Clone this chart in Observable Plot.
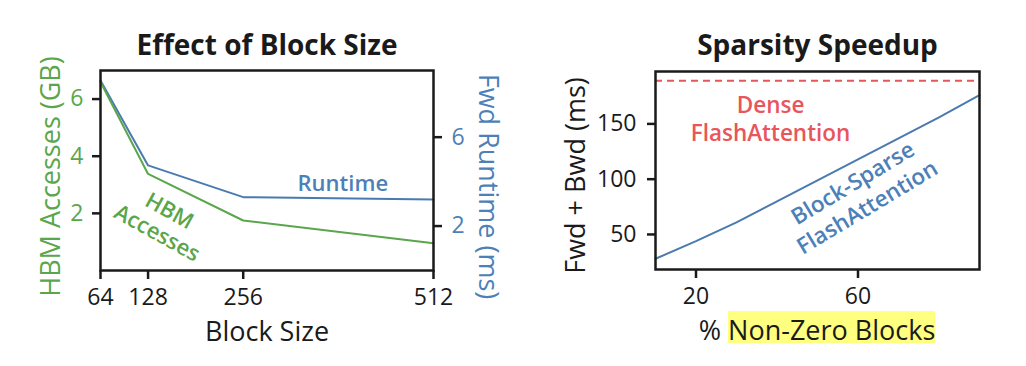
<!DOCTYPE html>
<html>
<head>
<meta charset="utf-8">
<script src="https://cdn.jsdelivr.net/npm/d3@7"></script>
<script src="https://cdn.jsdelivr.net/npm/@observablehq/plot@0.6"></script>
<style>
  html, body { margin: 0; padding: 0; background: #fff; }
  #root { position: relative; width: 1026px; height: 366px; overflow: hidden; font-family: "Open Sans", sans-serif; }
  .panel { position: absolute; top: 0; }
  #xlab2 { position: absolute; font-size: 27px; color: #1a1a1a; white-space: nowrap; line-height: 1; }
  #xlab2 .hl { background: linear-gradient(to bottom, #ffff80 0%, #ffff80 86%, transparent 86%); }
</style>
</head>
<body>
<div id="root">
  <div id="left" class="panel" style="left:0"></div>
  <div id="right" class="panel" style="left:513px"></div>
  <div id="xlab2">% <span class="hl">Non-Zero Blocks</span></div>
</div>
<script>
// ---- Data: Effect of Block Size ----
const blockSizes = [64, 128, 256, 512];
const hbmAccessesGB = [6.6, 3.38, 1.75, 0.95];
const fwdRuntimeMs = [8.55, 4.73, 3.3, 3.2];
const blockTicks = [64, 128, 256, 512];
const hbmTicks = [2, 4, 6];
const runtimeTicks = [2, 6];

// ---- Data: Sparsity Speedup ----
const pctNonZero = [10, 20, 30, 40, 50, 60, 70, 80, 90];
const blockSparseMs = [28, 44, 61, 80, 99, 118, 137, 156, 176];
const denseFlashMs = [189];
const pctTicks = [20, 60];
const msTicks = [50, 100, 150];

// annotations (data coordinates)
const leftNotes = [
  {x: 149, y: 1.72, text: "HBM\nAccesses", color: "green", rotate: 29},
  {x: 390, y: 3.05, text: "Runtime", color: "blue", rotate: 0}
];
const rightNotes = [
  {x: 38.4, y: 155, text: "Dense\nFlashAttention", color: "red", rotate: 0},
  {x: 60.3, y: 86.5, text: "Block-Sparse\nFlashAttention", color: "blue", rotate: -31}
];

const GREEN = "#5aa64b";
const BLUE = "#4a7aaf";
const BLUE_TXT = "#4d7fb8";
const RED = "#e8555b";
const INK = "#1a1a1a";
const FONT = "'Open Sans', 'Noto Sans', sans-serif";
const intFmt = d3.format("d");

const yMaxL = 7, yMaxR = 9;
const k = yMaxL / yMaxR; // map runtime onto HBM scale

const leftRows = blockSizes.map((b, i) => ({b, hbm: hbmAccessesGB[i], rt: fwdRuntimeMs[i] * k}));
const colorOf = c => c === "green" ? GREEN : c === "blue" ? BLUE_TXT : RED;

const left = Plot.plot({
  width: 513, height: 366,
  marginLeft: 100, marginRight: 80, marginTop: 70, marginBottom: 96,
  style: {fontFamily: FONT, fontSize: "22px", background: "transparent", overflow: "visible", color: INK},
  x: {type: "linear", domain: [64, 512]},
  y: {domain: [0, yMaxL]},
  marks: [
    Plot.line(leftRows, {x: "b", y: "rt", stroke: BLUE, strokeWidth: 2}),
    Plot.line(leftRows, {x: "b", y: "hbm", stroke: GREEN, strokeWidth: 2}),
    Plot.frame({stroke: INK, strokeWidth: 2.5}),
    Plot.axisX({ticks: blockTicks, tickFormat: intFmt, tickSize: 9, tickPadding: 9, strokeWidth: 2.5, stroke: INK, fill: INK, label: null, fontSize: 23}),
    Plot.axisY({ticks: hbmTicks, tickFormat: intFmt, tickSize: 8, tickPadding: 9, strokeWidth: 2.5, stroke: INK, fill: GREEN, label: null, fontSize: 23}),
    Plot.axisY({anchor: "right", ticks: runtimeTicks.map(t => t * k), tickFormat: d => intFmt(Math.round(d / k)), tickSize: 8, tickPadding: 10, strokeWidth: 2.5, stroke: INK, fill: BLUE_TXT, label: null, fontSize: 23}),
    Plot.text(["Effect of Block Size"], {frameAnchor: "top", lineAnchor: "middle", dy: -24, fontSize: 28, fontWeight: "bold", fill: INK}),
    Plot.text(["Block Size"], {frameAnchor: "bottom", lineAnchor: "middle", dy: 62, fontSize: 27, fill: INK}),
    Plot.text(["HBM Accesses (GB)"], {frameAnchor: "left", textAnchor: "middle", lineAnchor: "middle", rotate: -90, dx: -49, dy: 6, fontSize: 27, fill: GREEN}),
    Plot.text(["Fwd Runtime (ms)"], {frameAnchor: "right", textAnchor: "middle", lineAnchor: "middle", rotate: 90, dx: 54, dy: 16, fontSize: 27, fill: BLUE_TXT}),
    Plot.text(leftNotes, {x: "x", y: "y", text: "text", rotate: "rotate", fill: d => colorOf(d.color), fontSize: 22, fontWeight: 600, lineHeight: 1.15})
  ]
});
document.getElementById("left").appendChild(left);

const rightRows = pctNonZero.map((p, i) => ({p, ms: blockSparseMs[i]}));
const right = Plot.plot({
  width: 513, height: 366,
  marginLeft: 142, marginRight: 47, marginTop: 71, marginBottom: 97,
  style: {fontFamily: FONT, fontSize: "22px", background: "transparent", overflow: "visible", color: INK},
  x: {type: "linear", domain: [10, 90]},
  y: {domain: [18.3, 197.4]},
  marks: [
    Plot.ruleY(denseFlashMs, {stroke: RED, strokeWidth: 2, strokeDasharray: "7,5"}),
    Plot.line(rightRows, {x: "p", y: "ms", stroke: BLUE, strokeWidth: 2}),
    Plot.frame({stroke: INK, strokeWidth: 2.5}),
    Plot.axisX({ticks: pctTicks, tickFormat: intFmt, tickSize: 9, tickPadding: 9, strokeWidth: 2.5, stroke: INK, fill: INK, label: null, fontSize: 23}),
    Plot.axisY({ticks: msTicks, tickFormat: intFmt, tickSize: 8, tickPadding: 11, strokeWidth: 2.5, stroke: INK, fill: INK, label: null, fontSize: 23}),
    Plot.text(["Sparsity Speedup"], {frameAnchor: "top", lineAnchor: "middle", dy: -25, fontSize: 28, fontWeight: "bold", fill: INK}),
    Plot.text(["Fwd + Bwd (ms)"], {frameAnchor: "left", textAnchor: "middle", lineAnchor: "middle", rotate: -90, dx: -79, dy: 5, fontSize: 27, fill: INK}),
    Plot.text(rightNotes, {x: "x", y: "y", text: "text", rotate: "rotate", fill: d => colorOf(d.color), fontSize: 22.5, fontWeight: 600, lineHeight: 1.25})
  ]
});
document.getElementById("right").appendChild(right);

// position the highlighted x label under the right frame centre
const xl = document.getElementById("xlab2");
const w = xl.getBoundingClientRect().width;
xl.style.left = (817 - w / 2) + "px";
xl.style.top = "316px";
</script>
</body>
</html>
